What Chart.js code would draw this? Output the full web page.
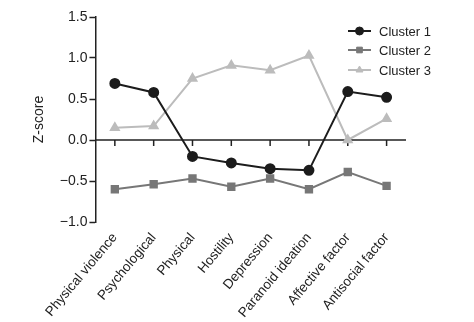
<!DOCTYPE html>
<html>
<head>
<meta charset="utf-8">
<script src="https://cdn.jsdelivr.net/npm/chart.js@4/dist/chart.umd.min.js"></script>
<style>
  html, body { margin: 0; padding: 0; background: #fff; }
  #wrap { width: 474px; height: 322px; }
</style>
</head>
<body>
<div id="wrap"><canvas id="lineChart"></canvas></div>
<script>
const categories = ['Physical violence', 'Psychological', 'Physical', 'Hostility',
    'Depression', 'Paranoid ideation', 'Affective factor', 'Antisocial factor'];
const cluster1 = [0.69, 0.58, -0.20, -0.28, -0.35, -0.37, 0.59, 0.52];
const cluster2 = [-0.60, -0.54, -0.47, -0.57, -0.47, -0.60, -0.39, -0.56];
const cluster3 = [0.15, 0.17, 0.75, 0.91, 0.85, 1.03, 0.00, 0.26];
const seriesNames = ['Cluster 1', 'Cluster 2', 'Cluster 3'];
const yTicks = [-1.0, -0.5, 0.0, 0.5, 1.0, 1.5];

const fontFamily = '"Liberation Sans", Arial, sans-serif';
const ink = '#222';

// zero line with category ticks, drawn under the series
const zeroAxis = {
    id: 'zeroAxis',
    beforeDatasetsDraw(chart) {
        const ctx = chart.ctx;
        const x = chart.scales.x;
        const y0 = chart.scales.y.getPixelForValue(0);
        ctx.save();
        ctx.strokeStyle = ink;
        ctx.lineWidth = 1.5;
        ctx.beginPath();
        ctx.moveTo(chart.chartArea.left, y0);
        ctx.lineTo(chart.chartArea.right, y0);
        categories.forEach((c, i) => {
            const px = x.getPixelForValue(i);
            ctx.moveTo(px, y0);
            ctx.lineTo(px, y0 + 6);
        });
        ctx.stroke();
        ctx.restore();
    }
};

// legend inside the plot, top right
const insideLegend = {
    id: 'insideLegend',
    afterDraw(chart) {
        const ctx = chart.ctx;
        const x0 = chart.chartArea.right - 58;
        const rows = [31, 50, 70];
        ctx.save();
        chart.data.datasets.forEach((ds, i) => {
            const y = rows[i];
            ctx.strokeStyle = ds.borderColor;
            ctx.lineWidth = 2;
            ctx.beginPath();
            ctx.moveTo(x0, y);
            ctx.lineTo(x0 + 23, y);
            ctx.stroke();
            ctx.fillStyle = ds.borderColor;
            ctx.lineWidth = 1;
            Chart.helpers.drawPoint(ctx, {
                pointStyle: ds.pointStyle,
                radius: ds.pointRadius - 0.5,
                borderWidth: 1
            }, x0 + 11.5, y);
            ctx.fillStyle = ink;
            ctx.font = '13px ' + fontFamily;
            ctx.textBaseline = 'middle';
            ctx.textAlign = 'left';
            ctx.fillText(ds.label, x0 + 31, y + 1);
        });
        ctx.restore();
    }
};

function makeSet(label, data, color, style, radius) {
    return {
        label: label,
        data: data,
        borderColor: color,
        backgroundColor: color,
        pointBackgroundColor: color,
        pointBorderColor: color,
        borderWidth: 2,
        pointStyle: style,
        pointRadius: radius,
        pointHoverRadius: radius,
        tension: 0
    };
}

const ctx = document.getElementById('lineChart').getContext('2d');
const myLineChart = new Chart(ctx, {
    type: 'line',
    data: {
        labels: categories,
        datasets: [
            makeSet(seriesNames[0], cluster1, '#1c1c1c', 'circle', 4.5),
            makeSet(seriesNames[1], cluster2, '#777777', 'rect', 4.5),
            makeSet(seriesNames[2], cluster3, '#bcbcbc', 'triangle', 4.5)
        ]
    },
    options: {
        responsive: true,
        maintainAspectRatio: false,
        animation: false,
        devicePixelRatio: 1,
        layout: {
            padding: { top: 17, right: 68, bottom: 0, left: 31 }
        },
        plugins: {
            legend: { display: false },
            tooltip: { enabled: false }
        },
        scales: {
            x: {
                offset: true,
                grid: { display: false },
                border: { display: false },
                afterFit: axis => { axis.height = 100; },
                ticks: {
                    color: ink,
                    minRotation: 50,
                    maxRotation: 50,
                    padding: 0,
                    font: { family: fontFamily, size: 13.5 }
                }
            },
            y: {
                min: yTicks[0],
                max: yTicks[yTicks.length - 1],
                afterBuildTicks: axis => {
                    axis.ticks = yTicks.map(v => ({ value: v }));
                },
                grid: {
                    drawOnChartArea: false,
                    drawTicks: true,
                    tickLength: 6,
                    tickWidth: 1.5,
                    color: ink
                },
                border: { display: true, color: ink, width: 1.5 },
                ticks: {
                    color: ink,
                    padding: 2,
                    font: { family: fontFamily, size: 14 },
                    callback: v => v.toFixed(1).replace('-', '\u2212')
                },
                title: {
                    display: true,
                    text: 'Z-score',
                    color: ink,
                    padding: { top: 0, bottom: 10 },
                    font: { family: fontFamily, size: 14 }
                }
            }
        }
    },
    plugins: [zeroAxis, insideLegend]
});
</script>
</body>
</html>
